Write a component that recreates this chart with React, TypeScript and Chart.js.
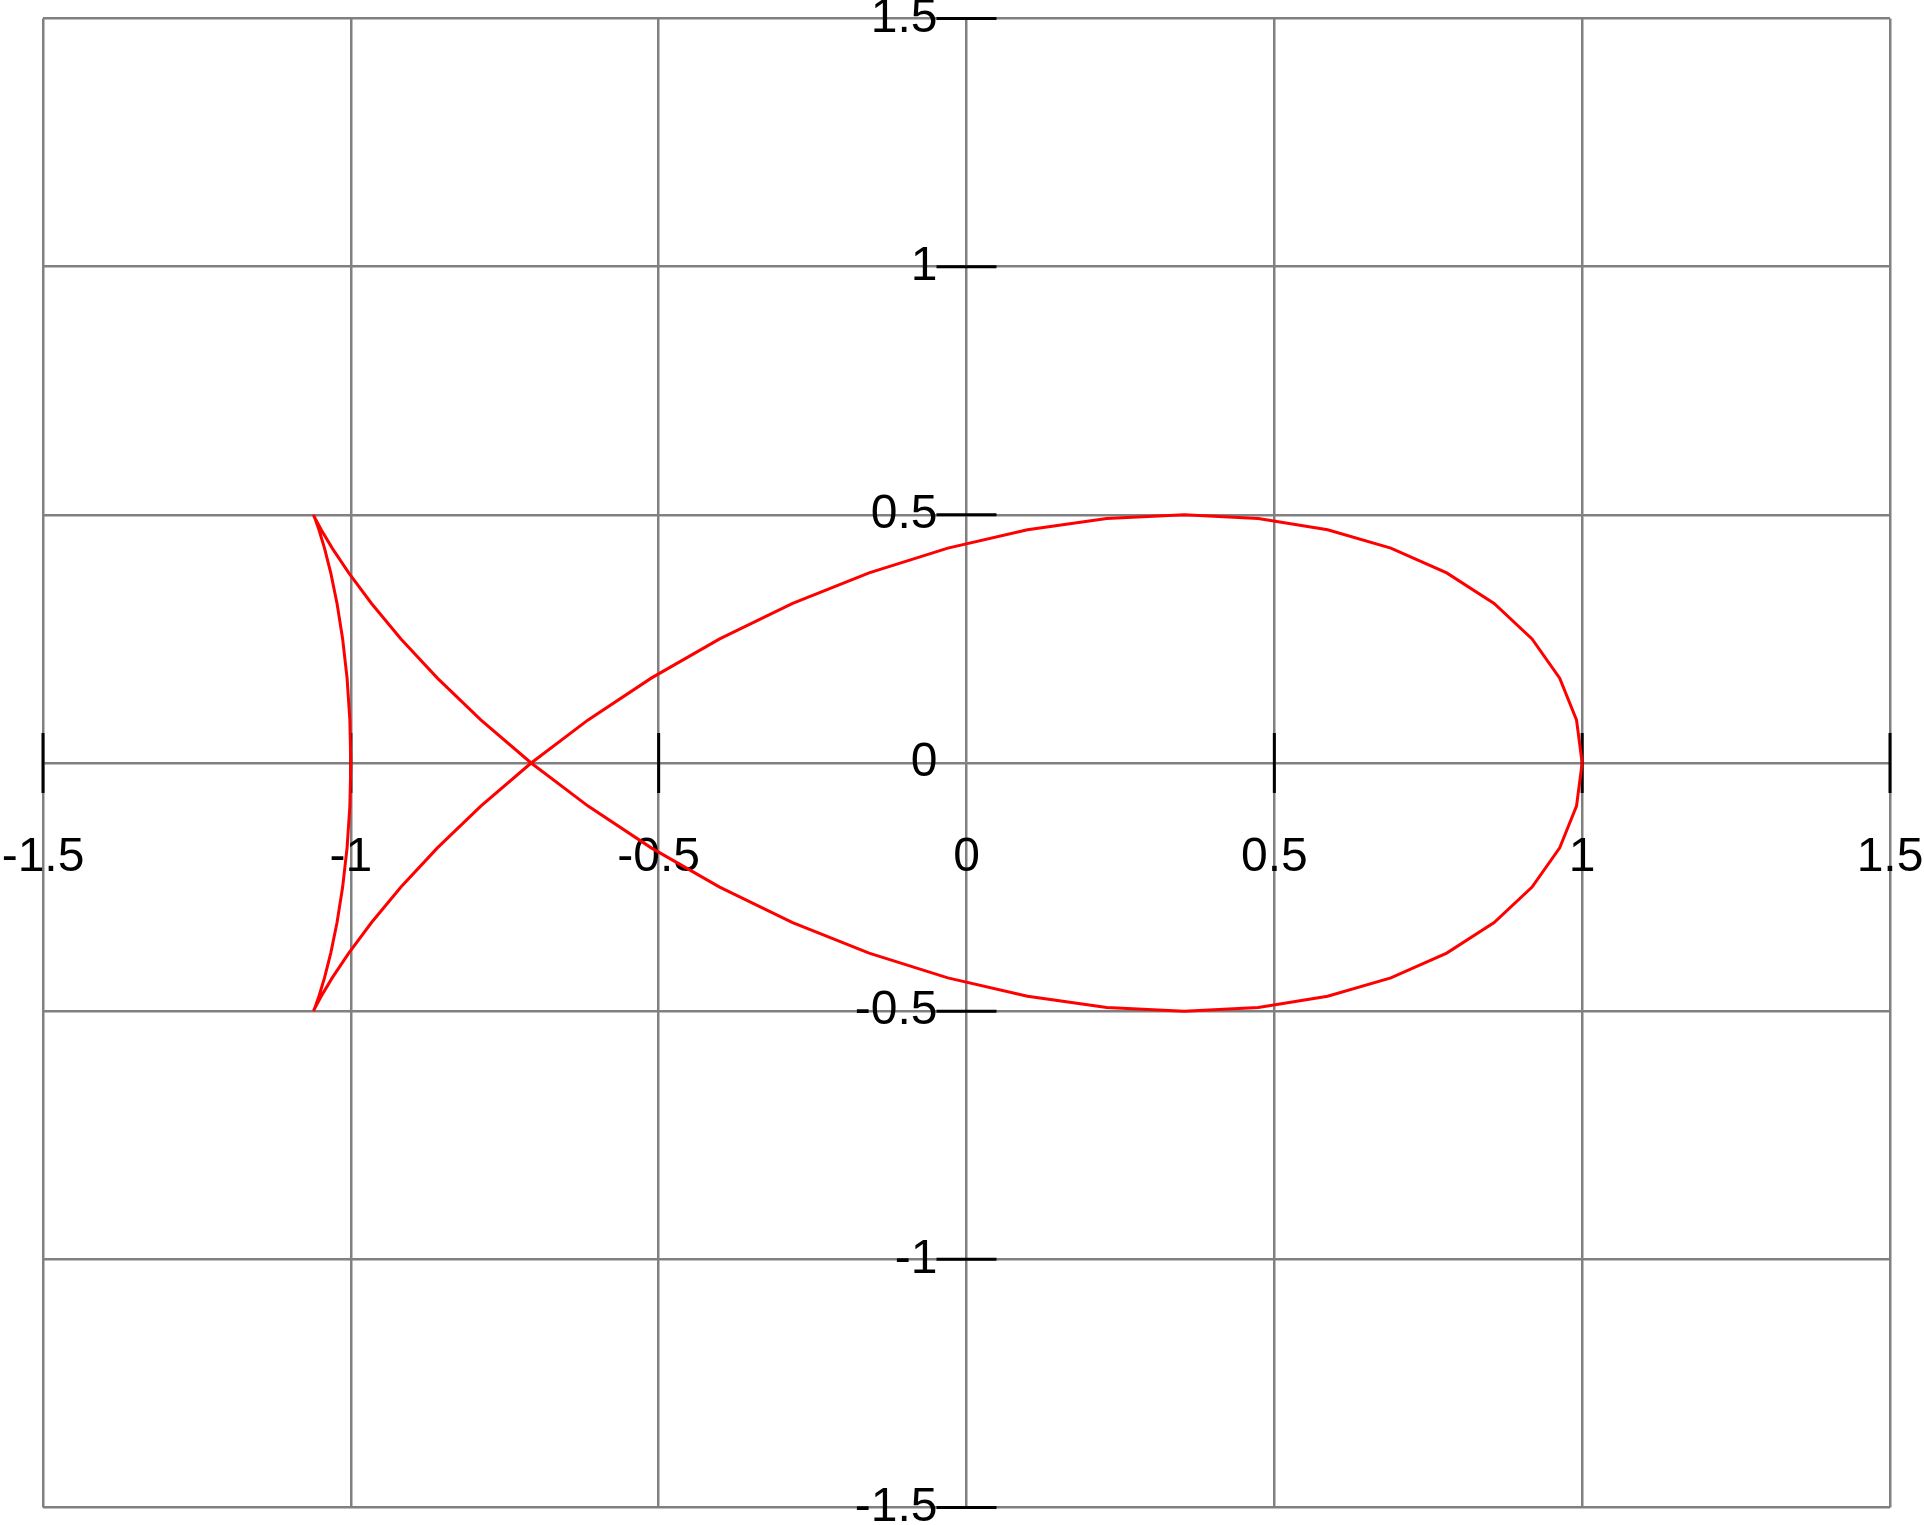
import React, { useEffect, useRef } from "react";
import { Chart, registerables } from "chart.js";

Chart.register(...registerables);

// Fish curve vertices (x, y pairs)
const curveX = [
  1, 0.9908, 0.9635, 0.9186, 0.857, 0.78, 0.6892, 0.5865, 0.4739, 0.3536,
  0.2278, 0.0991, -0.0303, -0.1582, -0.2824, -0.4009, -0.5121, -0.6146, -0.7071,
  -0.7889, -0.8594, -0.9186, -0.9664, -1.0034, -1.0303, -1.0481, -1.0577, -1.0607,
  -1.0582, -1.0518, -1.0428, -1.0326, -1.0224, -1.0133, -1.0061, -1.0016, -1,
  -1.0016, -1.0061, -1.0133, -1.0224, -1.0326, -1.0428, -1.0518, -1.0582, -1.0607,
  -1.0577, -1.0481, -1.0303, -1.0034, -0.9664, -0.9186, -0.8594, -0.7889, -0.7071,
  -0.6146, -0.5121, -0.4009, -0.2824, -0.1582, -0.0303, 0.0991, 0.2278, 0.3536,
  0.4739, 0.5865, 0.6892, 0.78, 0.857, 0.9186, 0.9635, 0.9908, 1,
];
const curveY = [
  0, 0.0868, 0.171, 0.25, 0.3214, 0.383, 0.433, 0.4698, 0.4924, 0.5,
  0.4924, 0.4698, 0.433, 0.383, 0.3214, 0.25, 0.171, 0.0868, 0,
  -0.0868, -0.171, -0.25, -0.3214, -0.383, -0.433, -0.4698, -0.4924, -0.5,
  -0.4924, -0.4698, -0.433, -0.383, -0.3214, -0.25, -0.171, -0.0868, 0,
  0.0868, 0.171, 0.25, 0.3214, 0.383, 0.433, 0.4698, 0.4924, 0.5,
  0.4924, 0.4698, 0.433, 0.383, 0.3214, 0.25, 0.171, 0.0868, 0,
  -0.0868, -0.171, -0.25, -0.3214, -0.383, -0.433, -0.4698, -0.4924, -0.5,
  -0.4924, -0.4698, -0.433, -0.383, -0.3214, -0.25, -0.171, -0.0868, 0,
];

const xTickValues = [-1.5, -1, -0.5, 0, 0.5, 1, 1.5];
const xTickLabels = ["-1.5", "-1", "-0.5", "0", "0.5", "1", "1.5"];
const yTickValues = [-1.5, -1, -0.5, 0, 0.5, 1, 1.5];
const yTickLabels = ["-1.5", "-1", "-0.5", "0", "0.5", "1", "1.5"];

const GRID = "#808080";
const FONT_FAMILY = "'Liberation Sans', Arial, sans-serif";

const labelFor = (values: number[], labels: string[]) => (v: any) => {
  const i = values.findIndex((t) => Math.abs(t - Number(v)) < 1e-9);
  return i >= 0 ? labels[i] : "";
};

const noSpace = (scale: any) => {
  if (scale.isHorizontal()) scale.height = 0;
  else scale.width = 0;
  scale.paddingLeft = 0;
  scale.paddingRight = 0;
  scale.paddingTop = 0;
  scale.paddingBottom = 0;
};

const crossTicks = {
  id: "crossTicks",
  beforeDatasetsDraw(chart: any) {
    const { ctx, scales } = chart;
    const xs = scales.x;
    const ys = scales.y;
    const x0 = xs.getPixelForValue(0);
    const y0 = ys.getPixelForValue(0);
    const half = 30;
    ctx.save();
    ctx.strokeStyle = "#000000";
    ctx.lineWidth = 3;
    xTickValues.forEach((v) => {
      if (v === 0) return;
      const px = xs.getPixelForValue(v);
      ctx.beginPath();
      ctx.moveTo(px, y0 - half);
      ctx.lineTo(px, y0 + half);
      ctx.stroke();
    });
    yTickValues.forEach((v) => {
      if (v === 0) return;
      const py = ys.getPixelForValue(v);
      ctx.beginPath();
      ctx.moveTo(x0 - half, py);
      ctx.lineTo(x0 + half, py);
      ctx.stroke();
    });
    ctx.restore();
  },
};

export default function App() {
  const ref = useRef<HTMLCanvasElement | null>(null);

  useEffect(() => {
    document.body.style.margin = "0";
    document.body.style.overflow = "hidden";
    const canvas = ref.current;
    if (!canvas) return;
    const points = curveX.map((x, i) => ({ x, y: curveY[i] }));
    const chart = new Chart(canvas, {
      type: "scatter",
      data: {
        datasets: [
          {
            data: points,
            showLine: true,
            borderColor: "#ff0000",
            borderWidth: 3,
            pointRadius: 0,
            fill: false,
            tension: 0,
          },
        ],
      },
      options: {
        responsive: false,
        animation: false,
        devicePixelRatio: 1,
        layout: { padding: { left: 43, right: 34, top: 18.5, bottom: 17.5 } },
        plugins: {
          legend: { display: false },
          tooltip: { enabled: false },
          title: { display: false },
        },
        scales: {
          x: {
            type: "linear",
            position: { y: 0 },
            min: -1.5,
            max: 1.5,
            afterBuildTicks: (axis: any) => {
              axis.ticks = xTickValues.map((value) => ({ value }));
            },
            afterFit: noSpace,
            ticks: {
              callback: labelFor(xTickValues, xTickLabels),
              color: "#000000",
              font: { family: FONT_FAMILY, size: 48 },
              padding: 66,
              maxRotation: 0,
              autoSkip: false,
            },
            grid: { color: GRID, lineWidth: 2.5, drawTicks: false },
            border: { display: false },
          },
          y: {
            type: "linear",
            position: "center",
            min: -1.5,
            max: 1.5,
            afterBuildTicks: (axis: any) => {
              axis.ticks = yTickValues.map((value) => ({ value }));
            },
            afterFit: noSpace,
            ticks: {
              callback: labelFor(yTickValues, yTickLabels),
              color: "#000000",
              font: { family: FONT_FAMILY, size: 48 },
              padding: 29,
              autoSkip: false,
            },
            grid: { color: GRID, lineWidth: 2.5, drawTicks: false },
            border: { display: false },
          },
        },
      },
      plugins: [crossTicks],
    } as any);
    return () => chart.destroy();
  }, []);

  return (
    <div style={{ position: "relative", width: 1924, height: 1525 }}>
      <canvas
        ref={ref}
        width={1924}
        height={1525}
        style={{ display: "block", width: 1924, height: 1525 }}
      />
    </div>
  );
}
